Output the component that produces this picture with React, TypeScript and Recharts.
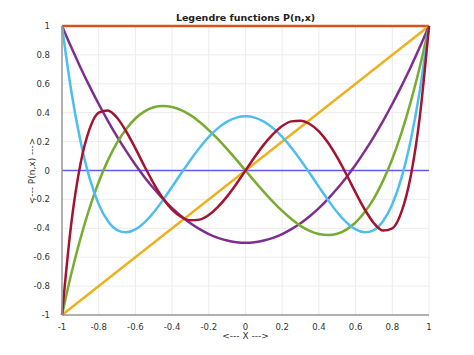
import { LineChart, Line, XAxis, YAxis, CartesianGrid } from 'recharts';

const xs = [
  -1, -0.95, -0.9, -0.85, -0.8, -0.75, -0.7, -0.65, -0.6, -0.55, -0.5,
  -0.45, -0.4, -0.35, -0.3, -0.25, -0.2, -0.15, -0.1, -0.05, 0,
  0.05, 0.1, 0.15, 0.2, 0.25, 0.3, 0.35, 0.4, 0.45, 0.5,
  0.55, 0.6, 0.65, 0.7, 0.75, 0.8, 0.85, 0.9, 0.95, 1,
];

const p2 = [
  1, 0.854, 0.715, 0.584, 0.46, 0.344, 0.235, 0.134, 0.04, -0.046, -0.125,
  -0.196, -0.26, -0.316, -0.365, -0.406, -0.44, -0.466, -0.485, -0.496, -0.5,
  -0.496, -0.485, -0.466, -0.44, -0.406, -0.365, -0.316, -0.26, -0.196, -0.125,
  -0.046, 0.04, 0.134, 0.235, 0.344, 0.46, 0.584, 0.715, 0.854, 1,
];

const p3 = [
  -1, -0.718, -0.473, -0.26, -0.08, 0.07, 0.193, 0.288, 0.36, 0.409, 0.438,
  0.447, 0.44, 0.418, 0.383, 0.336, 0.28, 0.217, 0.148, 0.075, 0,
  -0.075, -0.148, -0.217, -0.28, -0.336, -0.383, -0.418, -0.44, -0.447, -0.438,
  -0.409, -0.36, -0.288, -0.193, -0.07, 0.08, 0.26, 0.473, 0.718, 1,
];

const p4 = [
  1, 0.554, 0.208, -0.051, -0.233, -0.35, -0.412, -0.428, -0.408, -0.359, -0.289,
  -0.205, -0.113, -0.019, 0.073, 0.158, 0.232, 0.293, 0.338, 0.366, 0.375,
  0.366, 0.338, 0.293, 0.232, 0.158, 0.073, -0.019, -0.113, -0.205, -0.289,
  -0.359, -0.408, -0.428, -0.412, -0.35, -0.233, -0.051, 0.208, 0.554, 1,
];

const p5 = [
  -1, -0.373, 0.041, 0.286, 0.4, 0.416, 0.365, 0.27, 0.153, 0.028, -0.09,
  -0.192, -0.271, -0.322, -0.345, -0.34, -0.308, -0.252, -0.179, -0.093, 0,
  0.093, 0.179, 0.252, 0.308, 0.34, 0.345, 0.322, 0.271, 0.192, 0.09,
  -0.028, -0.153, -0.27, -0.365, -0.416, -0.4, -0.286, -0.041, 0.373, 1,
];

// straight lines only need their end points
const ends = [-1, 1];
const zeroLine = [0, 0];
const p0 = [1, 1];
const p1 = [-1, 1];

const ticks = [-1, -0.8, -0.6, -0.4, -0.2, 0, 0.2, 0.4, 0.6, 0.8, 1];

const toPoints = (x: number[], y: number[]) => x.map((v, i) => ({ x: v, y: y[i] }));

const series = [
  { name: 'zero', data: toPoints(ends, zeroLine), color: '#5b5bf5', width: 1.5 },
  { name: 'P0', data: toPoints(ends, p0), color: '#D95319', width: 2.5 },
  { name: 'P1', data: toPoints(ends, p1), color: '#EDB120', width: 2.5 },
  { name: 'P2', data: toPoints(xs, p2), color: '#7E2F8E', width: 2.5 },
  { name: 'P3', data: toPoints(xs, p3), color: '#77AC30', width: 2.5 },
  { name: 'P4', data: toPoints(xs, p4), color: '#4DBEEE', width: 2.5 },
  { name: 'P5', data: toPoints(xs, p5), color: '#A2142F', width: 2.5 },
];

const font = '"DejaVu Sans", sans-serif';
const fmt = (v: number) => String(Math.round(v * 10) / 10);

export default function App() {
  return (
    <div style={{ position: 'absolute', left: 0, top: 0, width: 474, height: 355, background: '#fff', fontFamily: font }}>
      <div style={{ position: 'absolute', left: 0, width: 491, top: 12, textAlign: 'center', fontSize: 9.5, fontWeight: 'bold', color: '#222' }}>
        Legendre functions P(n,x)
      </div>
      <div style={{ position: 'absolute', left: 0, width: 491, top: 332, lineHeight: '9px', textAlign: 'center', fontSize: 9, color: '#333' }}>
        {'<--- X --->'}
      </div>
      <div style={{ position: 'absolute', left: 32, top: 171, fontSize: 9, lineHeight: '9px', color: '#333', whiteSpace: 'nowrap', transform: 'translate(-50%, -50%) rotate(-90deg)' }}>
        {'<--- P(n,x) --->'}
      </div>
      <LineChart width={474} height={355} margin={{ top: 26, right: 45, left: 22, bottom: 20 }}>
        <CartesianGrid stroke="#ececec" strokeWidth={1} />
        <XAxis
          dataKey="x"
          type="number"
          domain={[-1, 1]}
          ticks={ticks}
          tickFormatter={fmt}
          allowDuplicatedCategory={false}
          height={20}
          stroke="#999"
          strokeWidth={1.5}
          tickLine={false}
          tickMargin={3}
          tick={{ fontSize: 8.5, fill: '#333', fontFamily: font }}
        />
        <YAxis
          dataKey="y"
          type="number"
          domain={[-1, 1]}
          ticks={ticks}
          tickFormatter={fmt}
          width={40}
          stroke="#999"
          strokeWidth={1.5}
          tickLine={false}
          tickMargin={6}
          tick={{ fontSize: 8.5, fill: '#333', fontFamily: font }}
        />
        {series.map((s) => (
          <Line
            key={s.name}
            data={s.data}
            dataKey="y"
            type="monotone"
            stroke={s.color}
            strokeWidth={s.width}
            dot={false}
            isAnimationActive={false}
          />
        ))}
      </LineChart>
    </div>
  );
}
